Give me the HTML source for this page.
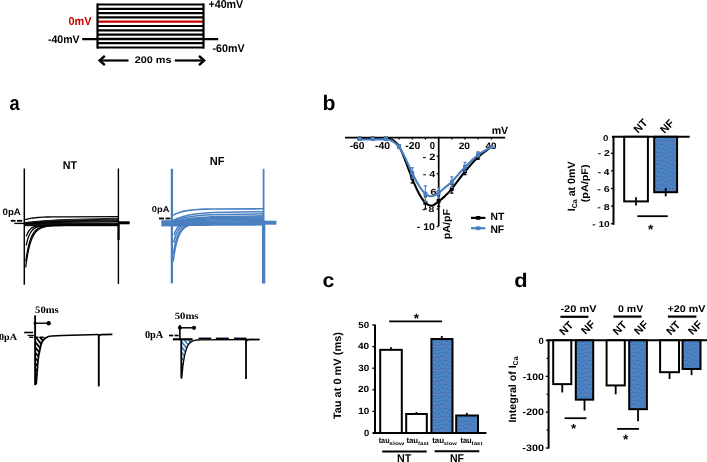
<!DOCTYPE html>
<html><head><meta charset="utf-8"><style>
html,body{margin:0;padding:0;background:#fff;}
body{width:707px;height:462px;overflow:hidden;}
svg{display:block;}
text{text-rendering:geometricPrecision;}
</style></head><body>
<svg width="707" height="462" viewBox="0 0 707 462">
<rect width="707" height="462" fill="#fff"/>
<defs><pattern id="hat" width="3.4" height="3.4" patternUnits="userSpaceOnUse" patternTransform="rotate(-40)"><rect x="0" y="0" width="1.9" height="3.4" fill="#000"/></pattern><pattern id="hatb" width="3.4" height="3.4" patternUnits="userSpaceOnUse" patternTransform="rotate(-40)"><rect x="0" y="0" width="1.9" height="3.4" fill="#4a80c0"/></pattern><pattern id="dots" width="12" height="12" patternUnits="userSpaceOnUse"><rect width="12" height="12" fill="#4a80c0"/><rect x="1" y="0" width="1" height="1" fill="#4a5066"/><rect x="1" y="1" width="1" height="1" fill="#8d7ff5"/><rect x="5" y="2" width="1" height="1" fill="#4a5066"/><rect x="5" y="3" width="1" height="1" fill="#8d7ff5"/><rect x="9" y="1" width="1" height="1" fill="#4a5066"/><rect x="9" y="2" width="1" height="1" fill="#8d7ff5"/><rect x="3" y="5" width="1" height="1" fill="#4a5066"/><rect x="3" y="6" width="1" height="1" fill="#8d7ff5"/><rect x="7" y="6" width="1" height="1" fill="#4a5066"/><rect x="7" y="7" width="1" height="1" fill="#8d7ff5"/><rect x="11" y="4" width="1" height="1" fill="#4a5066"/><rect x="11" y="5" width="1" height="1" fill="#8d7ff5"/><rect x="0" y="9" width="1" height="1" fill="#4a5066"/><rect x="0" y="10" width="1" height="1" fill="#8d7ff5"/><rect x="5" y="9" width="1" height="1" fill="#4a5066"/><rect x="5" y="10" width="1" height="1" fill="#8d7ff5"/><rect x="9" y="8" width="1" height="1" fill="#4a5066"/><rect x="9" y="9" width="1" height="1" fill="#8d7ff5"/></pattern></defs>
<line x1="97.5" y1="4.5" x2="203.5" y2="4.5" stroke="#000" stroke-width="2.2" />
<line x1="97.5" y1="8.8" x2="203.5" y2="8.8" stroke="#000" stroke-width="2.2" />
<line x1="97.5" y1="13.1" x2="203.5" y2="13.1" stroke="#000" stroke-width="2.2" />
<line x1="97.5" y1="17.4" x2="203.5" y2="17.4" stroke="#000" stroke-width="2.2" />
<line x1="97.5" y1="21.7" x2="203.5" y2="21.7" stroke="#c80000" stroke-width="2.2" />
<line x1="97.5" y1="26" x2="203.5" y2="26" stroke="#000" stroke-width="2.2" />
<line x1="97.5" y1="30.3" x2="203.5" y2="30.3" stroke="#000" stroke-width="2.2" />
<line x1="97.5" y1="34.6" x2="203.5" y2="34.6" stroke="#000" stroke-width="2.2" />
<line x1="97.5" y1="38.9" x2="203.5" y2="38.9" stroke="#000" stroke-width="2.2" />
<line x1="97.5" y1="43.2" x2="203.5" y2="43.2" stroke="#000" stroke-width="2.2" />
<line x1="97.5" y1="47.5" x2="203.5" y2="47.5" stroke="#000" stroke-width="2.2" />
<line x1="97.5" y1="3.4" x2="97.5" y2="48.6" stroke="#000" stroke-width="2.2" />
<line x1="203.5" y1="3.4" x2="203.5" y2="48.6" stroke="#000" stroke-width="2.2" />
<line x1="82.2" y1="39.1" x2="218.2" y2="39.1" stroke="#000" stroke-width="2.2" />
<text x="208.45" y="8.1" font-family="'Liberation Sans', Arial, Helvetica, sans-serif" font-size="11.46" font-weight="bold" fill="#000" textLength="34.82" lengthAdjust="spacingAndGlyphs" >+40mV</text>
<text x="212.48" y="51.9" font-family="'Liberation Sans', Arial, Helvetica, sans-serif" font-size="11.17" font-weight="bold" fill="#000" textLength="32.09" lengthAdjust="spacingAndGlyphs" >-60mV</text>
<text x="68.47" y="24.5" font-family="'Liberation Sans', Arial, Helvetica, sans-serif" font-size="11.60" font-weight="bold" fill="#c80000" textLength="23.11" lengthAdjust="spacingAndGlyphs" >0mV</text>
<text x="47.89" y="42.9" font-family="'Liberation Sans', Arial, Helvetica, sans-serif" font-size="11.03" font-weight="bold" fill="#000" textLength="31.79" lengthAdjust="spacingAndGlyphs" >-40mV</text>
<line x1="100" y1="60.5" x2="128.5" y2="60.5" stroke="#000" stroke-width="2.2" />
<line x1="174.8" y1="60.5" x2="204" y2="60.5" stroke="#000" stroke-width="2.2" />
<path d="M104.8,55.8 L99.6,60.5 L104.8,65.2" stroke="#000" stroke-width="2.4" fill="none" />
<path d="M199,55.8 L204.2,60.5 L199,65.2" stroke="#000" stroke-width="2.4" fill="none" />
<text x="134.72" y="62.9" font-family="'Liberation Sans', Arial, Helvetica, sans-serif" font-size="9.60" font-weight="bold" fill="#000" textLength="36.82" lengthAdjust="spacingAndGlyphs" >200 ms</text>
<text x="9.57" y="109.8" font-family="'Liberation Sans', Arial, Helvetica, sans-serif" font-size="20.44" font-weight="bold" fill="#000" textLength="10.12" lengthAdjust="spacingAndGlyphs" >a</text>
<text x="322.6" y="110" font-family="'Liberation Sans', Arial, Helvetica, sans-serif" font-size="21.11" font-weight="bold" fill="#000" textLength="12.97" lengthAdjust="spacingAndGlyphs" >b</text>
<text x="322.47" y="286.8" font-family="'Liberation Sans', Arial, Helvetica, sans-serif" font-size="20.07" font-weight="bold" fill="#000" textLength="11.86" lengthAdjust="spacingAndGlyphs" >c</text>
<text x="514.2" y="286.6" font-family="'Liberation Sans', Arial, Helvetica, sans-serif" font-size="19.73" font-weight="bold" fill="#000" textLength="13.33" lengthAdjust="spacingAndGlyphs" >d</text>
<text x="62.68" y="168.9" font-family="'Liberation Sans', Arial, Helvetica, sans-serif" font-size="11.34" font-weight="bold" fill="#000" textLength="14.33" lengthAdjust="spacingAndGlyphs" >NT</text>
<text x="2.62" y="214.6" font-family="'Liberation Sans', Arial, Helvetica, sans-serif" font-size="9.31" font-weight="bold" fill="#000" textLength="18.24" lengthAdjust="spacingAndGlyphs" >0pA</text>
<line x1="10.8" y1="220.8" x2="15.5" y2="220.8" stroke="#000" stroke-width="1.8" />
<line x1="17" y1="220.8" x2="22.2" y2="220.8" stroke="#000" stroke-width="1.8" />
<line x1="14.3" y1="223.4" x2="24.3" y2="223.4" stroke="#000" stroke-width="1.4" />
<rect x="24.3" y="222.4" width="94.1" height="3.8" fill="#111"/>
<path d="M25.2,219.6 L25.5,219.5 L25.9,219.4 L26.4,219.3 L27.0,219.1 L27.7,219.0 L28.5,218.8 L29.4,218.6 L30.4,218.4 L31.7,218.2 L33.2,218.0 L35.2,217.8 L37.7,217.5 L40.2,217.3 L43.2,217.2 L47.2,217.0 L52.2,216.9 L58.2,216.8 L65.2,216.8 L118.4,216.7" stroke="#000" stroke-width="1.3" fill="none" />
<path d="M25.2,222.6 L25.5,222.6 L25.9,222.5 L26.4,222.5 L27.0,222.4 L27.7,222.3 L28.5,222.2 L29.4,222.1 L30.4,222.0 L31.7,221.9 L33.2,221.7 L35.2,221.5 L37.7,221.3 L40.2,221.1 L43.2,220.8 L47.2,220.5 L52.2,220.2 L58.2,219.8 L65.2,219.5 L118.4,218.2" stroke="#222" stroke-width="1.1" fill="none" />
<path d="M25.2,222.9 L25.5,222.9 L25.9,222.8 L26.4,222.8 L27.0,222.7 L27.7,222.6 L28.5,222.6 L29.4,222.5 L30.4,222.4 L31.7,222.3 L33.2,222.1 L35.2,221.9 L37.7,221.7 L40.2,221.6 L43.2,221.3 L47.2,221.1 L52.2,220.8 L58.2,220.5 L65.2,220.2 L118.4,219.0" stroke="#111" stroke-width="1.1" fill="none" />
<path d="M25.2,223.2 L25.5,223.2 L25.9,223.1 L26.4,223.1 L27.0,223.0 L27.7,223.0 L28.5,222.9 L29.4,222.8 L30.4,222.7 L31.7,222.6 L33.2,222.5 L35.2,222.4 L37.7,222.2 L40.2,222.0 L43.2,221.9 L47.2,221.6 L52.2,221.4 L58.2,221.1 L65.2,220.9 L118.4,219.9" stroke="#111" stroke-width="1.1" fill="none" />
<path d="M25.2,223.5 L25.5,223.5 L25.9,223.4 L26.4,223.4 L27.0,223.4 L27.7,223.3 L28.5,223.3 L29.4,223.2 L30.4,223.1 L31.7,223.0 L33.2,222.9 L35.2,222.8 L37.7,222.7 L40.2,222.5 L43.2,222.4 L47.2,222.2 L52.2,222.0 L58.2,221.8 L65.2,221.5 L118.4,220.7" stroke="#000" stroke-width="1.1" fill="none" />
<path d="M25.2,223.8 L25.5,223.8 L25.9,223.8 L26.4,223.7 L27.0,223.7 L27.7,223.6 L28.5,223.6 L29.4,223.6 L30.4,223.5 L31.7,223.4 L33.2,223.3 L35.2,223.2 L37.7,223.1 L40.2,223.0 L43.2,222.9 L47.2,222.7 L52.2,222.6 L58.2,222.4 L65.2,222.2 L118.4,221.5" stroke="#000" stroke-width="1.1" fill="none" />
<path d="M25.7,267.3 L26.1,264.2 L26.6,260.7 L27.2,256.9 L27.9,253.0 L28.7,249.1 L29.7,245.1 L30.9,241.2 L32.3,237.6 L33.9,234.6 L35.7,232.0 L38.2,229.7 L40.7,228.2 L43.7,227.1 L47.7,226.2 L52.7,225.7 L58.7,225.5 L65.7,225.4 L118.4,225.3" stroke="#000" stroke-width="1.3" fill="none" />
<path d="M25.8,261.4 L26.2,258.5 L26.7,255.3 L27.3,251.8 L28.0,248.2 L28.8,244.8 L29.8,241.3 L31.0,237.9 L32.4,234.9 L34.0,232.3 L35.8,230.3 L38.3,228.4 L40.8,227.3 L43.8,226.5 L47.8,225.9 L52.8,225.6 L58.8,225.4 L65.8,225.3 L118.4,225.3" stroke="#000" stroke-width="1.3" fill="none" />
<path d="M26.2,245.5 L26.6,243.6 L27.1,241.6 L27.7,239.4 L28.4,237.3 L29.2,235.2 L30.2,233.2 L31.4,231.3 L32.8,229.7 L34.4,228.4 L36.2,227.4 L38.7,226.5 L41.2,226.0 L44.2,225.7 L48.2,225.5 L53.2,225.4 L59.2,225.3 L66.2,225.3 L118.4,225.3" stroke="#000" stroke-width="1.3" fill="none" />
<path d="M26.4,236.2 L26.8,235.1 L27.3,233.8 L27.9,232.6 L28.6,231.3 L29.4,230.2 L30.4,229.1 L31.6,228.1 L33.0,227.2 L34.6,226.6 L36.4,226.1 L38.9,225.8 L41.4,225.6 L44.4,225.4 L48.4,225.4 L53.4,225.3 L59.4,225.3 L66.4,225.3 L118.4,225.3" stroke="#000" stroke-width="1.3" fill="none" />
<line x1="24.3" y1="168.5" x2="24.3" y2="284.8" stroke="#000" stroke-width="1.5" />
<line x1="118.4" y1="168.5" x2="118.4" y2="284" stroke="#000" stroke-width="1.4" />
<line x1="118.6" y1="224" x2="118.6" y2="240" stroke="#000" stroke-width="2.2" />
<line x1="118.4" y1="222.8" x2="129.7" y2="222.8" stroke="#000" stroke-width="3" />
<text x="209.66" y="165.4" font-family="'Liberation Sans', Arial, Helvetica, sans-serif" font-size="11.63" font-weight="bold" fill="#000" textLength="14.75" lengthAdjust="spacingAndGlyphs" >NF</text>
<text x="151.83" y="212" font-family="'Liberation Sans', Arial, Helvetica, sans-serif" font-size="8.45" font-weight="bold" fill="#000" textLength="17.51" lengthAdjust="spacingAndGlyphs" >0pA</text>
<line x1="159" y1="218.5" x2="164" y2="218.5" stroke="#000" stroke-width="1.8" />
<line x1="165.5" y1="218.5" x2="170.4" y2="218.5" stroke="#000" stroke-width="1.8" />
<rect x="161.3" y="220.2" width="10.6" height="6.2" fill="#4a80c0"/>
<path d="M173.0,215.3 L173.3,215.1 L173.7,214.9 L174.2,214.6 L174.8,214.3 L175.5,214.0 L176.3,213.6 L177.2,213.2 L178.2,212.9 L179.5,212.4 L181.0,211.9 L183.0,211.4 L185.5,210.9 L188.0,210.5 L191.0,210.1 L195.0,209.7 L200.0,209.4 L206.0,209.1 L213.0,209.0 L263.6,208.8" stroke="#4a80c0" stroke-width="1.6" fill="none" />
<path d="M173.0,220.2 L173.3,220.1 L173.7,219.9 L174.2,219.6 L174.8,219.4 L175.5,219.1 L176.3,218.8 L177.2,218.4 L178.2,218.0 L179.5,217.6 L181.0,217.1 L183.0,216.5 L185.5,215.9 L188.0,215.3 L191.0,214.8 L195.0,214.1 L200.0,213.5 L206.0,213.0 L213.0,212.5 L263.6,211.7" stroke="#4a80c0" stroke-width="1.5" fill="none" />
<path d="M173.0,221.0 L173.3,220.9 L173.7,220.7 L174.2,220.6 L174.8,220.4 L175.5,220.1 L176.3,219.9 L177.2,219.6 L178.2,219.3 L179.5,219.0 L181.0,218.6 L183.0,218.1 L185.5,217.6 L188.0,217.1 L191.0,216.7 L195.0,216.1 L200.0,215.6 L206.0,215.1 L213.0,214.7 L263.6,213.8" stroke="#4a80c0" stroke-width="1.5" fill="none" />
<path d="M172.0,221.6 L172.3,221.5 L172.7,221.4 L173.2,221.3 L173.8,221.2 L174.5,221.0 L175.3,220.9 L176.2,220.7 L177.2,220.5 L178.5,220.2 L180.0,220.0 L182.0,219.6 L184.5,219.2 L187.0,218.9 L190.0,218.5 L194.0,218.1 L199.0,217.6 L205.0,217.2 L212.0,216.8 L263.6,215.8" stroke="#4a80c0" stroke-width="1.6" fill="none" />
<path d="M172.0,222.1 L172.3,222.0 L172.7,222.0 L173.2,221.9 L173.8,221.7 L174.5,221.6 L175.3,221.4 L176.2,221.3 L177.2,221.1 L178.5,220.9 L180.0,220.6 L182.0,220.4 L184.5,220.0 L187.0,219.7 L190.0,219.4 L194.0,219.0 L199.0,218.6 L205.0,218.2 L212.0,217.9 L263.6,216.9" stroke="#4a80c0" stroke-width="1.6" fill="none" />
<path d="M172.0,222.6 L172.3,222.5 L172.7,222.5 L173.2,222.4 L173.8,222.3 L174.5,222.2 L175.3,222.0 L176.2,221.9 L177.2,221.7 L178.5,221.5 L180.0,221.3 L182.0,221.1 L184.5,220.8 L187.0,220.5 L190.0,220.2 L194.0,219.9 L199.0,219.6 L205.0,219.2 L212.0,218.9 L263.6,218.1" stroke="#4a80c0" stroke-width="1.6" fill="none" />
<path d="M172.0,223.1 L172.3,223.1 L172.7,223.0 L173.2,222.9 L173.8,222.8 L174.5,222.7 L175.3,222.6 L176.2,222.5 L177.2,222.4 L178.5,222.2 L180.0,222.0 L182.0,221.8 L184.5,221.6 L187.0,221.3 L190.0,221.1 L194.0,220.8 L199.0,220.5 L205.0,220.2 L212.0,220.0 L263.6,219.3" stroke="#4a80c0" stroke-width="1.6" fill="none" />
<path d="M172.0,223.6 L172.3,223.6 L172.7,223.5 L173.2,223.5 L173.8,223.4 L174.5,223.3 L175.3,223.2 L176.2,223.1 L177.2,223.0 L178.5,222.9 L180.0,222.7 L182.0,222.5 L184.5,222.3 L187.0,222.2 L190.0,222.0 L194.0,221.7 L199.0,221.5 L205.0,221.3 L212.0,221.0 L263.6,220.5" stroke="#4a80c0" stroke-width="1.6" fill="none" />
<path d="M172.0,224.2 L172.3,224.2 L172.7,224.1 L173.2,224.1 L173.8,224.0 L174.5,224.0 L175.3,223.9 L176.2,223.8 L177.2,223.7 L178.5,223.6 L180.0,223.5 L182.0,223.3 L184.5,223.2 L187.0,223.0 L190.0,222.9 L194.0,222.7 L199.0,222.5 L205.0,222.3 L212.0,222.1 L263.6,221.7" stroke="#4a80c0" stroke-width="1.6" fill="none" />
<path d="M172.0,224.8 L172.3,224.8 L172.7,224.7 L173.2,224.7 L173.8,224.7 L174.5,224.6 L175.3,224.6 L176.2,224.5 L177.2,224.4 L178.5,224.3 L180.0,224.3 L182.0,224.1 L184.5,224.0 L187.0,223.9 L190.0,223.8 L194.0,223.6 L199.0,223.5 L205.0,223.3 L212.0,223.2 L263.6,222.9" stroke="#4a80c0" stroke-width="1.6" fill="none" />
<path d="M172.0,225.4 L172.3,225.4 L172.7,225.4 L173.2,225.3 L173.8,225.3 L174.5,225.3 L175.3,225.2 L176.2,225.2 L177.2,225.1 L178.5,225.1 L180.0,225.0 L182.0,224.9 L184.5,224.8 L187.0,224.8 L190.0,224.7 L194.0,224.6 L199.0,224.5 L205.0,224.4 L212.0,224.3 L263.6,224.0" stroke="#4a80c0" stroke-width="1.6" fill="none" />
<path d="M172.0,225.8 L172.3,225.8 L172.7,225.8 L173.2,225.8 L173.8,225.7 L174.5,225.7 L175.3,225.7 L176.2,225.6 L177.2,225.6 L178.5,225.6 L180.0,225.5 L182.0,225.5 L184.5,225.4 L187.0,225.3 L190.0,225.3 L194.0,225.2 L199.0,225.1 L205.0,225.1 L212.0,225.0 L263.6,224.8" stroke="#4a80c0" stroke-width="1.6" fill="none" />
<path d="M173.2,261.5 L173.6,258.5 L174.1,255.0 L174.7,251.4 L175.4,247.7 L176.2,244.1 L177.2,240.4 L178.4,236.8 L179.8,233.7 L181.4,231.0 L183.2,228.9 L185.7,226.9 L188.2,225.7 L191.2,224.8 L195.2,224.2 L200.2,223.8 L206.2,223.6 L213.2,223.5 L263.6,223.5" stroke="#4a80c0" stroke-width="1.6" fill="none" />
<path d="M173.4,253.9 L173.8,251.4 L174.3,248.5 L174.9,245.5 L175.6,242.4 L176.4,239.5 L177.4,236.5 L178.6,233.6 L180.0,231.1 L181.6,229.1 L183.4,227.4 L185.9,225.9 L188.4,225.0 L191.4,224.4 L195.4,223.9 L200.4,223.7 L206.4,223.6 L213.4,223.5 L263.6,223.5" stroke="#4a80c0" stroke-width="1.6" fill="none" />
<path d="M173.8,242.5 L174.2,240.7 L174.7,238.8 L175.3,236.7 L176.0,234.7 L176.8,232.8 L177.8,230.8 L179.0,229.1 L180.4,227.6 L182.0,226.4 L183.8,225.5 L186.3,224.7 L188.8,224.2 L191.8,223.9 L195.8,223.7 L200.8,223.6 L206.8,223.5 L213.8,223.5 L263.6,223.5" stroke="#4a80c0" stroke-width="1.6" fill="none" />
<path d="M174.0,234.9 L174.4,233.7 L174.9,232.4 L175.5,231.1 L176.2,229.8 L177.0,228.6 L178.0,227.4 L179.2,226.4 L180.6,225.5 L182.2,224.9 L184.0,224.4 L186.5,224.0 L189.0,223.8 L192.0,223.6 L196.0,223.6 L201.0,223.5 L207.0,223.5 L214.0,223.5 L263.6,223.5" stroke="#4a80c0" stroke-width="1.6" fill="none" />
<line x1="171.9" y1="168.8" x2="171.9" y2="283.3" stroke="#4a80c0" stroke-width="2.3" />
<line x1="263.6" y1="168.8" x2="263.6" y2="224" stroke="#4a80c0" stroke-width="1.8" />
<line x1="263.6" y1="223.5" x2="263.6" y2="283.5" stroke="#4a80c0" stroke-width="3.4" />
<line x1="263.6" y1="222.7" x2="276.4" y2="222.7" stroke="#4a80c0" stroke-width="4" />
<text x="35.08" y="312.9" font-family="'Liberation Serif', 'Times New Roman', serif" font-size="9.92" font-weight="bold" fill="#000" textLength="23.58" lengthAdjust="spacingAndGlyphs" >50ms</text>
<text x="-0.99" y="339.9" font-family="'Liberation Serif', 'Times New Roman', serif" font-size="9.47" font-weight="bold" fill="#000" textLength="18.06" lengthAdjust="spacingAndGlyphs" >0pA</text>
<path d="M35.1,337.3 L36.2,384.5 L36.7,378.0 L37.3,370.0 L38.0,361.0 L38.8,355.0 L40.0,349.5 L40.8,345.5 L42.3,341.5 L44.0,339.4 L46.0,337.6 L46.0,337.3 Z" stroke="none" stroke-width="0" fill="url(#hat)" />
<path d="M36.2,384.5 L36.7,378.0 L37.3,370.0 L38.0,361.0 L38.8,355.0 L40.0,349.5 L40.8,345.5 L42.3,341.5 L44.0,339.4 L46.0,337.6 L48.5,336.5 L52.0,336.0 L62.0,335.5 L98.8,334.5" stroke="#000" stroke-width="1.7" fill="none" />
<line x1="35.1" y1="315.4" x2="35.1" y2="385.2" stroke="#000" stroke-width="1.9" />
<line x1="35.1" y1="323.2" x2="48.7" y2="323.2" stroke="#000" stroke-width="1.4" />
<circle cx="48.7" cy="323.2" r="2.2" fill="#000"/>
<circle cx="35.1" cy="323.2" r="1.5" fill="#000"/>
<line x1="24.1" y1="332.5" x2="33.1" y2="332.5" stroke="#000" stroke-width="1.6" />
<line x1="27.5" y1="335.4" x2="34" y2="335.4" stroke="#000" stroke-width="1.1" />
<line x1="29.2" y1="337.3" x2="44" y2="337.3" stroke="#000" stroke-width="1.6" stroke-dasharray="4,1.2"/>
<line x1="98.8" y1="334.4" x2="98.8" y2="386.4" stroke="#000" stroke-width="1.9" />
<path d="M98.8,336 Q99.6,334.6 101.5,334.6 L112.4,334.4" stroke="#000" stroke-width="1.6" fill="none" />
<text x="174.67" y="318.6" font-family="'Liberation Serif', 'Times New Roman', serif" font-size="9.62" font-weight="bold" fill="#000" textLength="23.89" lengthAdjust="spacingAndGlyphs" >50ms</text>
<text x="144.91" y="337.5" font-family="'Liberation Serif', 'Times New Roman', serif" font-size="10.68" font-weight="bold" fill="#000" textLength="18.37" lengthAdjust="spacingAndGlyphs" >0pA</text>
<path d="M181.2,339.5 L181.7,378.0 L182.2,372.6 L182.8,367.1 L183.5,361.8 L184.2,357.5 L185.0,353.7 L186.0,350.0 L187.0,347.2 L188.2,344.9 L189.5,343.1 L191.0,341.8 L192.5,341.0 L192.5,339.5 Z" stroke="none" stroke-width="0" fill="url(#hatb)" />
<path d="M181.3,339.6 L181.5,378.0 L181.7,378.0 L182.2,372.7 L182.8,367.2 L183.5,361.9 L184.2,357.6 L185.0,353.8 L186.0,350.1 L187.0,347.3 L188.2,345.0 L189.5,343.2 L191.0,341.9 L192.5,341.1 L194.5,340.4 L197.0,340.0 L200.0,339.8 L259.5,339.5" stroke="#000" stroke-width="1.3" fill="none" />
<line x1="181.3" y1="339.5" x2="181.3" y2="377.8" stroke="#000" stroke-width="1.6" />
<line x1="172.9" y1="339.3" x2="192.6" y2="339.3" stroke="#000" stroke-width="2.2" />
<line x1="198.5" y1="338.5" x2="211.2" y2="338.5" stroke="#000" stroke-width="1.8" />
<line x1="215.8" y1="338.5" x2="228.8" y2="338.5" stroke="#000" stroke-width="1.8" />
<line x1="234" y1="338.5" x2="246.5" y2="338.5" stroke="#000" stroke-width="1.8" />
<line x1="201" y1="337.5" x2="210" y2="337.5" stroke="#7078ff" stroke-width="0.7" stroke-dasharray="1,1.6"/>
<line x1="219" y1="337.5" x2="228" y2="337.5" stroke="#7078ff" stroke-width="0.7" stroke-dasharray="1,1.6"/>
<line x1="236" y1="337.5" x2="245" y2="337.5" stroke="#7078ff" stroke-width="0.7" stroke-dasharray="1,1.6"/>
<line x1="179.9" y1="325" x2="179.9" y2="339.6" stroke="#000" stroke-width="1.6" />
<line x1="179.9" y1="327.8" x2="194" y2="327.8" stroke="#000" stroke-width="1.5" />
<circle cx="179.9" cy="327.8" r="2" fill="#000"/>
<circle cx="194" cy="327.8" r="2.1" fill="#000"/>
<line x1="169" y1="335.5" x2="173.3" y2="335.5" stroke="#000" stroke-width="1.7" />
<line x1="174.6" y1="335.5" x2="178.6" y2="335.5" stroke="#000" stroke-width="1.7" />
<line x1="246" y1="339.4" x2="246" y2="378.9" stroke="#000" stroke-width="1.8" />
<path d="M246.2,341.5 Q246.8,339.5 249,339.5 L259.5,339.5" stroke="#000" stroke-width="1.4" fill="none" />
<line x1="345" y1="137.6" x2="505.2" y2="137.6" stroke="#000" stroke-width="1.9" />
<line x1="359.52" y1="137.6" x2="359.52" y2="139.6" stroke="#000" stroke-width="1.2" />
<line x1="372.7" y1="137.6" x2="372.7" y2="139.6" stroke="#000" stroke-width="1.2" />
<line x1="385.88" y1="137.6" x2="385.88" y2="139.6" stroke="#000" stroke-width="1.2" />
<line x1="399.06" y1="137.6" x2="399.06" y2="139.6" stroke="#000" stroke-width="1.2" />
<line x1="412.24" y1="137.6" x2="412.24" y2="139.6" stroke="#000" stroke-width="1.2" />
<line x1="425.42" y1="137.6" x2="425.42" y2="139.6" stroke="#000" stroke-width="1.2" />
<line x1="451.78" y1="137.6" x2="451.78" y2="139.6" stroke="#000" stroke-width="1.2" />
<line x1="464.96" y1="137.6" x2="464.96" y2="139.6" stroke="#000" stroke-width="1.2" />
<line x1="478.14" y1="137.6" x2="478.14" y2="139.6" stroke="#000" stroke-width="1.2" />
<line x1="491.32" y1="137.6" x2="491.32" y2="139.6" stroke="#000" stroke-width="1.2" />
<line x1="438.7" y1="136.8" x2="438.7" y2="226.2" stroke="#000" stroke-width="1.7" />
<text x="349.7" y="149" font-family="'Liberation Sans', Arial, Helvetica, sans-serif" font-size="10.03" font-weight="bold" fill="#000" textLength="14.82" lengthAdjust="spacingAndGlyphs" >-60</text>
<text x="374.99" y="149" font-family="'Liberation Sans', Arial, Helvetica, sans-serif" font-size="10.03" font-weight="bold" fill="#000" textLength="15.14" lengthAdjust="spacingAndGlyphs" >-40</text>
<text x="405.19" y="149.4" font-family="'Liberation Sans', Arial, Helvetica, sans-serif" font-size="10.17" font-weight="bold" fill="#000" textLength="15.14" lengthAdjust="spacingAndGlyphs" >-20</text>
<text x="429.73" y="149.4" font-family="'Liberation Sans', Arial, Helvetica, sans-serif" font-size="10.17" font-weight="bold" fill="#000" textLength="5.26" lengthAdjust="spacingAndGlyphs" >0</text>
<text x="458.65" y="149.2" font-family="'Liberation Sans', Arial, Helvetica, sans-serif" font-size="9.45" font-weight="bold" fill="#000" textLength="11.37" lengthAdjust="spacingAndGlyphs" >20</text>
<text x="485.55" y="149.2" font-family="'Liberation Sans', Arial, Helvetica, sans-serif" font-size="9.45" font-weight="bold" fill="#000" textLength="11.06" lengthAdjust="spacingAndGlyphs" >40</text>
<text x="491.7" y="133.9" font-family="'Liberation Sans', Arial, Helvetica, sans-serif" font-size="10.61" font-weight="bold" fill="#000" textLength="16.47" lengthAdjust="spacingAndGlyphs" >mV</text>
<text x="422.57" y="159.5" font-family="'Liberation Sans', Arial, Helvetica, sans-serif" font-size="9.31" font-weight="bold" fill="#000" textLength="12.98" lengthAdjust="spacingAndGlyphs" >- 2</text>
<text x="422.78" y="176.8" font-family="'Liberation Sans', Arial, Helvetica, sans-serif" font-size="8.72" font-weight="bold" fill="#000" textLength="12.58" lengthAdjust="spacingAndGlyphs" >- 4</text>
<text x="430.18" y="194.6" font-family="'Liberation Sans', Arial, Helvetica, sans-serif" font-size="8.88" font-weight="bold" fill="#000" textLength="6.44" lengthAdjust="spacingAndGlyphs" >6</text>
<text x="422.09" y="212.1" font-family="'Liberation Sans', Arial, Helvetica, sans-serif" font-size="8.59" font-weight="bold" fill="#000" textLength="12.23" lengthAdjust="spacingAndGlyphs" >- 8</text>
<text x="416.69" y="229.5" font-family="'Liberation Sans', Arial, Helvetica, sans-serif" font-size="9.88" font-weight="bold" fill="#000" textLength="18.25" lengthAdjust="spacingAndGlyphs" >- 10</text>
<line x1="436.7" y1="156.2" x2="438.7" y2="156.2" stroke="#000" stroke-width="1.3" />
<line x1="436.7" y1="173.8" x2="438.7" y2="173.8" stroke="#000" stroke-width="1.3" />
<line x1="436.7" y1="191.4" x2="438.7" y2="191.4" stroke="#000" stroke-width="1.3" />
<line x1="436.7" y1="209" x2="438.7" y2="209" stroke="#000" stroke-width="1.3" />
<line x1="436.7" y1="226.6" x2="438.7" y2="226.6" stroke="#000" stroke-width="1.3" />
<text transform="translate(449.6 238.5) rotate(-90)" x="-0.71" y="0" font-family="'Liberation Sans', Arial, Helvetica, sans-serif" font-size="10.07" font-weight="bold" fill="#000" textLength="30.30" lengthAdjust="spacingAndGlyphs">pA/pF</text>
<path d="M359.5,138.6 L361.0,138.6 L362.9,138.6 L365.3,138.6 L367.8,138.6 L370.4,138.6 L372.7,138.6 L375.0,138.6 L377.3,138.6 L379.7,138.5 L382.0,138.5 L384.1,138.5 L385.9,138.6 L387.4,138.7 L388.6,138.7 L389.6,138.8 L390.5,139.0 L391.4,139.4 L392.5,139.9 L393.6,140.6 L394.7,141.4 L395.8,142.4 L396.9,143.5 L398.0,144.9 L399.1,146.5 L400.2,148.5 L401.3,150.8 L402.4,153.3 L403.5,156.0 L404.6,158.8 L405.7,161.5 L406.7,164.2 L407.8,167.1 L408.9,170.1 L410.0,173.0 L411.1,175.9 L412.2,178.6 L413.3,181.3 L414.4,183.9 L415.5,186.4 L416.6,188.8 L417.7,191.1 L418.8,193.2 L419.9,195.1 L421.0,197.0 L422.1,198.7 L423.2,200.3 L424.3,201.7 L425.4,202.8 L426.5,203.8 L427.6,204.5 L428.7,205.0 L429.8,205.3 L430.9,205.5 L432.0,205.5 L433.1,205.2 L434.2,204.7 L435.3,204.0 L436.4,203.2 L437.5,202.4 L438.6,201.5 L439.7,200.7 L440.8,199.8 L441.9,198.9 L443.0,197.9 L444.1,196.9 L445.2,195.8 L446.2,194.8 L447.1,193.9 L448.1,193.0 L449.1,191.9 L450.3,190.5 L451.8,188.8 L453.6,186.5 L455.7,183.7 L458.0,180.6 L460.3,177.5 L462.7,174.4 L465.0,171.6 L467.2,169.0 L469.4,166.4 L471.6,163.9 L473.7,161.5 L475.9,159.2 L478.1,157.1 L480.5,155.0 L483.0,153.0 L485.6,151.1 L487.9,149.4 L489.9,148.0 L491.3,147.0" stroke="#000" stroke-width="2.1" fill="none" />
<rect x="357.52" y="136.6" width="4" height="4" fill="#000"/>
<rect x="370.7" y="136.6" width="4" height="4" fill="#000"/>
<rect x="383.88" y="136.6" width="4" height="4" fill="#000"/>
<rect x="397.06" y="144.52" width="4" height="4" fill="#000"/>
<rect x="410.24" y="175.76" width="4" height="4" fill="#000"/>
<line x1="412.24" y1="172.48" x2="412.24" y2="183.04" stroke="#000" stroke-width="1.2" />
<line x1="410.64" y1="172.48" x2="413.84" y2="172.48" stroke="#000" stroke-width="1.2" />
<line x1="410.64" y1="183.04" x2="413.84" y2="183.04" stroke="#000" stroke-width="1.2" />
<rect x="423.42" y="200.84" width="4" height="4" fill="#000"/>
<line x1="425.42" y1="196.68" x2="425.42" y2="209" stroke="#000" stroke-width="1.2" />
<line x1="423.82" y1="196.68" x2="427.02" y2="196.68" stroke="#000" stroke-width="1.2" />
<line x1="423.82" y1="209" x2="427.02" y2="209" stroke="#000" stroke-width="1.2" />
<rect x="436.6" y="199.08" width="4" height="4" fill="#000"/>
<line x1="438.6" y1="195.8" x2="438.6" y2="206.36" stroke="#000" stroke-width="1.2" />
<line x1="437" y1="195.8" x2="440.2" y2="195.8" stroke="#000" stroke-width="1.2" />
<line x1="437" y1="206.36" x2="440.2" y2="206.36" stroke="#000" stroke-width="1.2" />
<rect x="449.78" y="186.76" width="4" height="4" fill="#000"/>
<line x1="451.78" y1="184.36" x2="451.78" y2="193.16" stroke="#000" stroke-width="1.2" />
<line x1="450.18" y1="184.36" x2="453.38" y2="184.36" stroke="#000" stroke-width="1.2" />
<line x1="450.18" y1="193.16" x2="453.38" y2="193.16" stroke="#000" stroke-width="1.2" />
<rect x="462.96" y="169.16" width="4" height="4" fill="#000"/>
<line x1="464.96" y1="167.64" x2="464.96" y2="174.68" stroke="#000" stroke-width="1.2" />
<line x1="463.36" y1="167.64" x2="466.56" y2="167.64" stroke="#000" stroke-width="1.2" />
<line x1="463.36" y1="174.68" x2="466.56" y2="174.68" stroke="#000" stroke-width="1.2" />
<rect x="476.14" y="154.64" width="4" height="4" fill="#000"/>
<line x1="478.14" y1="154" x2="478.14" y2="159.28" stroke="#000" stroke-width="1.2" />
<line x1="476.54" y1="154" x2="479.74" y2="154" stroke="#000" stroke-width="1.2" />
<line x1="476.54" y1="159.28" x2="479.74" y2="159.28" stroke="#000" stroke-width="1.2" />
<rect x="489.32" y="144.96" width="4" height="4" fill="#000"/>
<path d="M359.5,139.5 L361.0,139.5 L362.9,139.5 L365.3,139.5 L367.8,139.5 L370.4,139.5 L372.7,139.5 L375.0,139.5 L377.3,139.4 L379.7,139.4 L382.0,139.3 L384.1,139.4 L385.9,139.5 L387.4,139.6 L388.6,139.8 L389.6,140.0 L390.5,140.3 L391.4,140.7 L392.5,141.2 L393.6,142.0 L394.7,142.8 L395.8,143.7 L396.9,144.8 L398.0,146.0 L399.1,147.4 L400.2,149.0 L401.3,150.7 L402.4,152.6 L403.5,154.6 L404.6,156.7 L405.7,158.8 L406.7,161.1 L407.8,163.4 L408.9,165.8 L410.0,168.3 L411.1,170.6 L412.2,172.9 L413.3,175.1 L414.4,177.3 L415.5,179.4 L416.6,181.5 L417.7,183.4 L418.8,185.2 L419.9,187.0 L421.0,188.6 L422.1,190.1 L423.2,191.5 L424.3,192.7 L425.4,193.8 L426.5,194.6 L427.6,195.3 L428.7,195.8 L429.8,196.1 L430.9,196.2 L432.0,196.2 L433.1,196.0 L434.2,195.6 L435.3,195.0 L436.4,194.2 L437.5,193.5 L438.6,192.7 L439.7,191.9 L440.8,191.1 L441.9,190.2 L443.0,189.3 L444.1,188.4 L445.2,187.4 L446.2,186.6 L447.1,185.9 L448.1,185.2 L449.1,184.3 L450.3,183.2 L451.8,181.7 L453.6,179.8 L455.7,177.5 L458.0,174.9 L460.3,172.2 L462.7,169.6 L465.0,167.2 L467.2,165.0 L469.4,162.8 L471.6,160.6 L473.7,158.6 L475.9,156.7 L478.1,154.9 L480.5,153.2 L483.0,151.6 L485.6,150.1 L487.9,148.9 L489.9,147.8 L491.3,147.0" stroke="#4a80c0" stroke-width="2.1" fill="none" />
<rect x="357.52" y="137.04" width="4" height="4" fill="#4a80c0"/>
<rect x="370.7" y="137.04" width="4" height="4" fill="#4a80c0"/>
<rect x="383.88" y="137.04" width="4" height="4" fill="#4a80c0"/>
<rect x="397.06" y="144.52" width="4" height="4" fill="#4a80c0"/>
<rect x="410.24" y="170.92" width="4" height="4" fill="#4a80c0"/>
<line x1="412.24" y1="167.64" x2="412.24" y2="178.2" stroke="#4a80c0" stroke-width="1.2" />
<line x1="410.64" y1="167.64" x2="413.84" y2="167.64" stroke="#4a80c0" stroke-width="1.2" />
<line x1="410.64" y1="178.2" x2="413.84" y2="178.2" stroke="#4a80c0" stroke-width="1.2" />
<rect x="423.42" y="191.78" width="4" height="4" fill="#4a80c0"/>
<line x1="425.42" y1="185.86" x2="425.42" y2="201.7" stroke="#4a80c0" stroke-width="1.2" />
<line x1="423.82" y1="185.86" x2="427.02" y2="185.86" stroke="#4a80c0" stroke-width="1.2" />
<line x1="423.82" y1="201.7" x2="427.02" y2="201.7" stroke="#4a80c0" stroke-width="1.2" />
<rect x="436.6" y="190.72" width="4" height="4" fill="#4a80c0"/>
<line x1="438.6" y1="187.44" x2="438.6" y2="198" stroke="#4a80c0" stroke-width="1.2" />
<line x1="437" y1="187.44" x2="440.2" y2="187.44" stroke="#4a80c0" stroke-width="1.2" />
<line x1="437" y1="198" x2="440.2" y2="198" stroke="#4a80c0" stroke-width="1.2" />
<rect x="449.78" y="180.16" width="4" height="4" fill="#4a80c0"/>
<line x1="451.78" y1="176.88" x2="451.78" y2="187.44" stroke="#4a80c0" stroke-width="1.2" />
<line x1="450.18" y1="176.88" x2="453.38" y2="176.88" stroke="#4a80c0" stroke-width="1.2" />
<line x1="450.18" y1="187.44" x2="453.38" y2="187.44" stroke="#4a80c0" stroke-width="1.2" />
<rect x="462.96" y="164.76" width="4" height="4" fill="#4a80c0"/>
<line x1="464.96" y1="162.36" x2="464.96" y2="171.16" stroke="#4a80c0" stroke-width="1.2" />
<line x1="463.36" y1="162.36" x2="466.56" y2="162.36" stroke="#4a80c0" stroke-width="1.2" />
<line x1="463.36" y1="171.16" x2="466.56" y2="171.16" stroke="#4a80c0" stroke-width="1.2" />
<rect x="476.14" y="152.44" width="4" height="4" fill="#4a80c0"/>
<line x1="478.14" y1="151.8" x2="478.14" y2="157.08" stroke="#4a80c0" stroke-width="1.2" />
<line x1="476.54" y1="151.8" x2="479.74" y2="151.8" stroke="#4a80c0" stroke-width="1.2" />
<line x1="476.54" y1="157.08" x2="479.74" y2="157.08" stroke="#4a80c0" stroke-width="1.2" />
<rect x="489.32" y="144.96" width="4" height="4" fill="#4a80c0"/>
<line x1="471" y1="217.9" x2="485.4" y2="217.9" stroke="#000" stroke-width="2.2" />
<rect x="476.1" y="216" width="4.2" height="3.8" fill="#000"/>
<text x="490.41" y="220.1" font-family="'Liberation Sans', Arial, Helvetica, sans-serif" font-size="10.61" font-weight="bold" fill="#000" textLength="13.80" lengthAdjust="spacingAndGlyphs" >NT</text>
<line x1="471" y1="228.2" x2="485.4" y2="228.2" stroke="#4a80c0" stroke-width="2.2" />
<rect x="476.1" y="226.3" width="4.2" height="3.8" fill="#4a80c0"/>
<text x="490.41" y="232.5" font-family="'Liberation Sans', Arial, Helvetica, sans-serif" font-size="11.05" font-weight="bold" fill="#000" textLength="13.77" lengthAdjust="spacingAndGlyphs" >NF</text>
<line x1="611.9" y1="136.8" x2="689.7" y2="136.8" stroke="#000" stroke-width="2" />
<line x1="613.5" y1="136" x2="613.5" y2="224.8" stroke="#000" stroke-width="2" />
<text x="603.12" y="140.8" font-family="'Liberation Sans', Arial, Helvetica, sans-serif" font-size="8.45" font-weight="bold" fill="#000" textLength="5.38" lengthAdjust="spacingAndGlyphs" >0</text>
<text x="597.69" y="155.9" font-family="'Liberation Sans', Arial, Helvetica, sans-serif" font-size="8.45" font-weight="bold" fill="#000" textLength="12.12" lengthAdjust="spacingAndGlyphs" >- 2</text>
<text x="597.71" y="174.5" font-family="'Liberation Sans', Arial, Helvetica, sans-serif" font-size="8.87" font-weight="bold" fill="#000" textLength="11.75" lengthAdjust="spacingAndGlyphs" >- 4</text>
<text x="597.18" y="191.8" font-family="'Liberation Sans', Arial, Helvetica, sans-serif" font-size="8.45" font-weight="bold" fill="#000" textLength="12.61" lengthAdjust="spacingAndGlyphs" >- 6</text>
<text x="597.18" y="209.6" font-family="'Liberation Sans', Arial, Helvetica, sans-serif" font-size="8.45" font-weight="bold" fill="#000" textLength="12.55" lengthAdjust="spacingAndGlyphs" >- 8</text>
<text x="592.2" y="226.7" font-family="'Liberation Sans', Arial, Helvetica, sans-serif" font-size="8.45" font-weight="bold" fill="#000" textLength="17.62" lengthAdjust="spacingAndGlyphs" >- 10</text>
<line x1="611" y1="153.22" x2="613.5" y2="153.22" stroke="#000" stroke-width="1.3" />
<line x1="611" y1="170.84" x2="613.5" y2="170.84" stroke="#000" stroke-width="1.3" />
<line x1="611" y1="188.46" x2="613.5" y2="188.46" stroke="#000" stroke-width="1.3" />
<line x1="611" y1="206.08" x2="613.5" y2="206.08" stroke="#000" stroke-width="1.3" />
<line x1="611" y1="223.7" x2="613.5" y2="223.7" stroke="#000" stroke-width="1.3" />
<rect x="624.2" y="136.8" width="23.7" height="64.6" fill="#fff" stroke="#000" stroke-width="2"/>
<rect x="654.2" y="136.8" width="22.9" height="55.4" fill="url(#dots)" stroke="#000" stroke-width="2"/>
<line x1="636" y1="197.2" x2="636" y2="205.5" stroke="#000" stroke-width="1.8" />
<line x1="665.7" y1="187.9" x2="665.7" y2="196.4" stroke="#000" stroke-width="1.8" />
<line x1="637.4" y1="216.2" x2="667.8" y2="216.2" stroke="#000" stroke-width="1.8" />
<text x="648.06" y="233.58" font-family="'Liberation Sans', Arial, Helvetica, sans-serif" font-size="13.50" font-weight="bold">*</text>
<text transform="translate(640.7 125.65) rotate(-45) translate(-7.57 3.75)" x="0" y="0" font-family="'Liberation Sans', Arial, Helvetica, sans-serif" font-size="10.9" font-weight="bold" fill="#000">NT</text>
<text transform="translate(667.05 126.1) rotate(-45) translate(-7.43 3.75)" x="0" y="0" font-family="'Liberation Sans', Arial, Helvetica, sans-serif" font-size="10.9" font-weight="bold" fill="#000">NF</text>
<g transform="translate(575.3 210.6) rotate(-90) scale(1.008 1)"><text x="-0.71" y="0" font-family="'Liberation Sans', Arial, Helvetica, sans-serif" font-size="10.6" font-weight="bold">I<tspan font-size="7.0" dy="1.8">Ca</tspan><tspan dy="-1.8"> at 0mV</tspan></text></g>
<text transform="translate(588.3 201.8) rotate(-90)" x="-0.54" y="0" font-family="'Liberation Sans', Arial, Helvetica, sans-serif" font-size="9.66" font-weight="bold" fill="#000" textLength="37.88" lengthAdjust="spacingAndGlyphs">(pA/pF)</text>
<line x1="375" y1="324.6" x2="375" y2="433.9" stroke="#000" stroke-width="2" />
<line x1="373" y1="432.9" x2="486.4" y2="432.9" stroke="#000" stroke-width="2" />
<line x1="372.3" y1="433" x2="375" y2="433" stroke="#000" stroke-width="1.3" />
<line x1="372.3" y1="411.4" x2="375" y2="411.4" stroke="#000" stroke-width="1.3" />
<line x1="372.3" y1="389.8" x2="375" y2="389.8" stroke="#000" stroke-width="1.3" />
<line x1="372.3" y1="368.2" x2="375" y2="368.2" stroke="#000" stroke-width="1.3" />
<line x1="372.3" y1="346.6" x2="375" y2="346.6" stroke="#000" stroke-width="1.3" />
<line x1="372.3" y1="325" x2="375" y2="325" stroke="#000" stroke-width="1.3" />
<text x="358.3" y="327.7" font-family="'Liberation Sans', Arial, Helvetica, sans-serif" font-size="8.88" font-weight="bold" fill="#000" textLength="10.90" lengthAdjust="spacingAndGlyphs" >50</text>
<text x="358.05" y="349.2" font-family="'Liberation Sans', Arial, Helvetica, sans-serif" font-size="9.02" font-weight="bold" fill="#000" textLength="11.16" lengthAdjust="spacingAndGlyphs" >40</text>
<text x="358.17" y="370.8" font-family="'Liberation Sans', Arial, Helvetica, sans-serif" font-size="9.02" font-weight="bold" fill="#000" textLength="11.03" lengthAdjust="spacingAndGlyphs" >30</text>
<text x="358.05" y="392.4" font-family="'Liberation Sans', Arial, Helvetica, sans-serif" font-size="9.02" font-weight="bold" fill="#000" textLength="11.16" lengthAdjust="spacingAndGlyphs" >20</text>
<text x="358.18" y="413.9" font-family="'Liberation Sans', Arial, Helvetica, sans-serif" font-size="9.02" font-weight="bold" fill="#000" textLength="11.03" lengthAdjust="spacingAndGlyphs" >10</text>
<text x="363.93" y="435.5" font-family="'Liberation Sans', Arial, Helvetica, sans-serif" font-size="9.02" font-weight="bold" fill="#000" textLength="5.26" lengthAdjust="spacingAndGlyphs" >0</text>
<rect x="380.2" y="349.84" width="21.6" height="83.16" fill="#fff" stroke="#000" stroke-width="2"/>
<rect x="406.2" y="413.99" width="20.6" height="19.01" fill="#fff" stroke="#000" stroke-width="2"/>
<rect x="431.4" y="339.04" width="21.1" height="93.96" fill="url(#dots)" stroke="#000" stroke-width="2"/>
<rect x="456.2" y="415.5" width="21.8" height="17.5" fill="url(#dots)" stroke="#000" stroke-width="2"/>
<line x1="391" y1="349.84" x2="391" y2="347.25" stroke="#000" stroke-width="1.8" />
<line x1="416.4" y1="413.99" x2="416.4" y2="412.05" stroke="#000" stroke-width="1.8" />
<line x1="441.8" y1="339.04" x2="441.8" y2="336.02" stroke="#000" stroke-width="1.8" />
<line x1="466.8" y1="415.5" x2="466.8" y2="412.91" stroke="#000" stroke-width="1.8" />
<line x1="389.1" y1="321.3" x2="442.1" y2="321.3" stroke="#000" stroke-width="1.8" />
<text x="413.76" y="322.58" font-family="'Liberation Sans', Arial, Helvetica, sans-serif" font-size="13.50" font-weight="bold">*</text>
<text transform="translate(341.4 419.1) rotate(-90)" x="-0.12" y="0" font-family="'Liberation Sans', Arial, Helvetica, sans-serif" font-size="10.76" font-weight="bold" fill="#000" textLength="87.16" lengthAdjust="spacingAndGlyphs">Tau at 0 mV (ms)</text>
<text x="378.71" y="442.7" font-family="'Liberation Sans', Arial, Helvetica, sans-serif" font-size="7.97" font-weight="bold" fill="#000" textLength="10.87" lengthAdjust="spacingAndGlyphs" >tau</text>
<text x="389.37" y="444.7" font-family="'Liberation Sans', Arial, Helvetica, sans-serif" font-size="4.97" font-weight="bold" fill="#000" textLength="14.72" lengthAdjust="spacingAndGlyphs" >slow</text>
<text x="406.4" y="442.7" font-family="'Liberation Sans', Arial, Helvetica, sans-serif" font-size="7.97" font-weight="bold" fill="#000" textLength="11.71" lengthAdjust="spacingAndGlyphs" >tau</text>
<text x="418" y="444.7" font-family="'Liberation Sans', Arial, Helvetica, sans-serif" font-size="4.97" font-weight="bold" fill="#000" textLength="10.78" lengthAdjust="spacingAndGlyphs" >fast</text>
<text x="432.2" y="442.7" font-family="'Liberation Sans', Arial, Helvetica, sans-serif" font-size="7.97" font-weight="bold" fill="#000" textLength="11.92" lengthAdjust="spacingAndGlyphs" >tau</text>
<text x="443.89" y="444.7" font-family="'Liberation Sans', Arial, Helvetica, sans-serif" font-size="4.97" font-weight="bold" fill="#000" textLength="12.99" lengthAdjust="spacingAndGlyphs" >slow</text>
<text x="460.41" y="442.7" font-family="'Liberation Sans', Arial, Helvetica, sans-serif" font-size="7.97" font-weight="bold" fill="#000" textLength="11.29" lengthAdjust="spacingAndGlyphs" >tau</text>
<text x="471.6" y="444.7" font-family="'Liberation Sans', Arial, Helvetica, sans-serif" font-size="4.97" font-weight="bold" fill="#000" textLength="10.88" lengthAdjust="spacingAndGlyphs" >fast</text>
<line x1="382.2" y1="451.4" x2="426.7" y2="451.4" stroke="#000" stroke-width="2" />
<line x1="434.6" y1="451.2" x2="479.3" y2="451.2" stroke="#000" stroke-width="2" />
<text x="397.09" y="462.4" font-family="'Liberation Sans', Arial, Helvetica, sans-serif" font-size="11.34" font-weight="bold" fill="#000" textLength="14.23" lengthAdjust="spacingAndGlyphs" >NT</text>
<text x="449.89" y="462.2" font-family="'Liberation Sans', Arial, Helvetica, sans-serif" font-size="11.34" font-weight="bold" fill="#000" textLength="14.09" lengthAdjust="spacingAndGlyphs" >NF</text>
<line x1="546.6" y1="340.3" x2="707" y2="340.3" stroke="#000" stroke-width="2" />
<line x1="548.6" y1="339.5" x2="548.6" y2="448.5" stroke="#000" stroke-width="2" />
<line x1="545.8" y1="340.5" x2="548.6" y2="340.5" stroke="#000" stroke-width="1.3" />
<line x1="546.6" y1="358.43" x2="548.6" y2="358.43" stroke="#000" stroke-width="1.3" />
<line x1="545.8" y1="376.35" x2="548.6" y2="376.35" stroke="#000" stroke-width="1.3" />
<line x1="546.6" y1="394.27" x2="548.6" y2="394.27" stroke="#000" stroke-width="1.3" />
<line x1="545.8" y1="412.2" x2="548.6" y2="412.2" stroke="#000" stroke-width="1.3" />
<line x1="546.6" y1="430.12" x2="548.6" y2="430.12" stroke="#000" stroke-width="1.3" />
<line x1="545.8" y1="448.05" x2="548.6" y2="448.05" stroke="#000" stroke-width="1.3" />
<text x="538.63" y="343.8" font-family="'Liberation Sans', Arial, Helvetica, sans-serif" font-size="8.88" font-weight="bold" fill="#000" textLength="5.26" lengthAdjust="spacingAndGlyphs" >0</text>
<text x="522.89" y="379.6" font-family="'Liberation Sans', Arial, Helvetica, sans-serif" font-size="9.45" font-weight="bold" fill="#000" textLength="21.04" lengthAdjust="spacingAndGlyphs" >-100</text>
<text x="522.58" y="415.1" font-family="'Liberation Sans', Arial, Helvetica, sans-serif" font-size="9.45" font-weight="bold" fill="#000" textLength="21.35" lengthAdjust="spacingAndGlyphs" >-200</text>
<text x="522.38" y="450.5" font-family="'Liberation Sans', Arial, Helvetica, sans-serif" font-size="9.45" font-weight="bold" fill="#000" textLength="21.56" lengthAdjust="spacingAndGlyphs" >-300</text>
<rect x="553.2" y="340.3" width="18.1" height="43.83" fill="#fff" stroke="#000" stroke-width="2"/>
<line x1="562.25" y1="384.13" x2="562.25" y2="392.48" stroke="#000" stroke-width="1.8" />
<rect x="575.8" y="340.3" width="17.4" height="59.35" fill="url(#dots)" stroke="#000" stroke-width="2"/>
<line x1="584.5" y1="399.65" x2="584.5" y2="410.59" stroke="#000" stroke-width="1.8" />
<rect x="606.6" y="340.3" width="18.2" height="45.12" fill="#fff" stroke="#000" stroke-width="2"/>
<line x1="615.7" y1="385.42" x2="615.7" y2="394.27" stroke="#000" stroke-width="1.8" />
<rect x="629.2" y="340.3" width="17.7" height="68.89" fill="url(#dots)" stroke="#000" stroke-width="2"/>
<line x1="638.05" y1="409.19" x2="638.05" y2="421.16" stroke="#000" stroke-width="1.8" />
<rect x="660.1" y="340.3" width="18.9" height="31.89" fill="#fff" stroke="#000" stroke-width="2"/>
<line x1="669.55" y1="372.19" x2="669.55" y2="379.04" stroke="#000" stroke-width="1.8" />
<rect x="682.6" y="340.3" width="17.9" height="28.66" fill="url(#dots)" stroke="#000" stroke-width="2"/>
<line x1="691.55" y1="368.96" x2="691.55" y2="375.1" stroke="#000" stroke-width="1.8" />
<line x1="564.6" y1="418.2" x2="586.4" y2="418.2" stroke="#000" stroke-width="1.8" />
<text x="571.01" y="432.84" font-family="'Liberation Sans', Arial, Helvetica, sans-serif" font-size="13.24" font-weight="bold">*</text>
<line x1="617.1" y1="428.9" x2="639" y2="428.9" stroke="#000" stroke-width="1.8" />
<text x="623.11" y="443.61" font-family="'Liberation Sans', Arial, Helvetica, sans-serif" font-size="13.76" font-weight="bold">*</text>
<text x="560.47" y="311.6" font-family="'Liberation Sans', Arial, Helvetica, sans-serif" font-size="9.74" font-weight="bold" fill="#000" textLength="36.00" lengthAdjust="spacingAndGlyphs" >-20 mV</text>
<text x="618.08" y="311.7" font-family="'Liberation Sans', Arial, Helvetica, sans-serif" font-size="9.74" font-weight="bold" fill="#000" textLength="25.19" lengthAdjust="spacingAndGlyphs" >0 mV</text>
<text x="667.45" y="311.7" font-family="'Liberation Sans', Arial, Helvetica, sans-serif" font-size="9.74" font-weight="bold" fill="#000" textLength="37.92" lengthAdjust="spacingAndGlyphs" >+20 mV</text>
<line x1="560.4" y1="316.8" x2="588.4" y2="316.8" stroke="#000" stroke-width="2.2" />
<line x1="613.4" y1="316.6" x2="641.5" y2="316.6" stroke="#000" stroke-width="2.2" />
<line x1="667.9" y1="316.6" x2="696.4" y2="316.6" stroke="#000" stroke-width="2.2" />
<text transform="translate(566.4 328) rotate(-45) translate(-7.57 3.75)" x="0" y="0" font-family="'Liberation Sans', Arial, Helvetica, sans-serif" font-size="10.9" font-weight="bold" fill="#000">NT</text>
<text transform="translate(588.2 327.1) rotate(-45) translate(-7.43 3.75)" x="0" y="0" font-family="'Liberation Sans', Arial, Helvetica, sans-serif" font-size="10.9" font-weight="bold" fill="#000">NF</text>
<text transform="translate(620 327.8) rotate(-45) translate(-7.57 3.75)" x="0" y="0" font-family="'Liberation Sans', Arial, Helvetica, sans-serif" font-size="10.9" font-weight="bold" fill="#000">NT</text>
<text transform="translate(641.2 327.5) rotate(-45) translate(-7.43 3.75)" x="0" y="0" font-family="'Liberation Sans', Arial, Helvetica, sans-serif" font-size="10.9" font-weight="bold" fill="#000">NF</text>
<text transform="translate(673.5 327.8) rotate(-45) translate(-7.57 3.75)" x="0" y="0" font-family="'Liberation Sans', Arial, Helvetica, sans-serif" font-size="10.9" font-weight="bold" fill="#000">NT</text>
<text transform="translate(695.2 327.5) rotate(-45) translate(-7.43 3.75)" x="0" y="0" font-family="'Liberation Sans', Arial, Helvetica, sans-serif" font-size="10.9" font-weight="bold" fill="#000">NF</text>
<g transform="translate(516.4 421.9) rotate(-90) scale(1.002 1)"><text x="-0.71" y="0" font-family="'Liberation Sans', Arial, Helvetica, sans-serif" font-size="10.6" font-weight="bold">Integral of I<tspan font-size="7.0" dy="1.8">Ca</tspan></text></g>
</svg>
</body></html>
